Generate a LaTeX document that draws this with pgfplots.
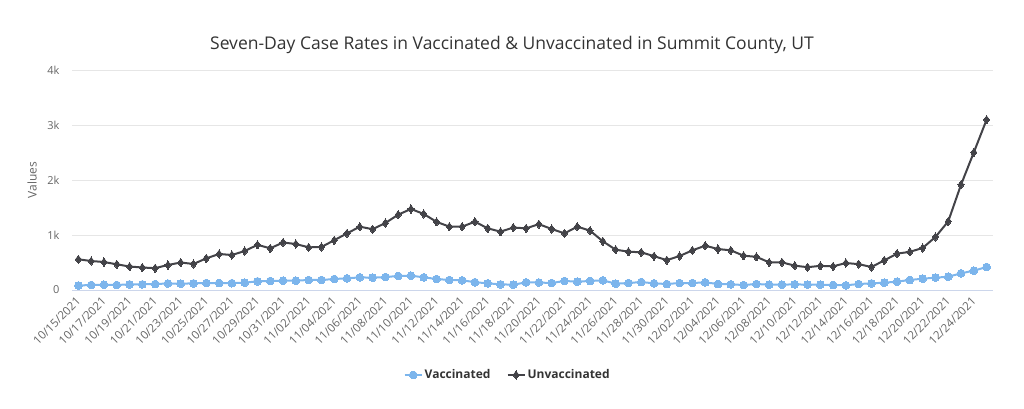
\documentclass[border=0pt]{standalone}
\usepackage{fontspec}
\setmainfont{Open Sans}
\usepackage{pgfplots}
\usepackage{pgfplotstable}
\pgfplotsset{compat=1.18}

\definecolor{vaccol}{HTML}{7CB5EC}
\definecolor{unvcol}{HTML}{434348}
\definecolor{titlecol}{HTML}{333333}
\definecolor{labelcol}{HTML}{666666}
\definecolor{gridcol}{HTML}{E6E6E6}
\definecolor{axiscol}{HTML}{CCD6EB}

% Seven-day case rates per day, 10/15/2021 (idx 0) to 12/25/2021 (idx 71)
\pgfplotstableread{
idx vac unvac
0   82   558
1   91   527
2   97   509
3   91   467
4   103  427
5   103  409
6   109  397
7   118  455
8   115  500
9   121  473
10  127  576
11  127  655
12  125  636
13  133  709
14  158  821
15  164  758
16  170  864
17  170  836
18  182  776
19  182  782
20  200  905
21  212  1030
22  230  1151
23  224  1106
24  236  1218
25  255  1370
26  261  1473
27  230  1382
28  200  1239
29  182  1152
30  176  1152
31  142  1242
32  121  1121
33  103  1061
34  97   1136
35  139  1121
36  136  1197
37  127  1109
38  164  1030
39  152  1152
40  164  1079
41  176  885
42  115  733
43  127  697
44  145  685
45  121  615
46  109  543
47  127  618
48  127  721
49  139  806
50  109  745
51  103  721
52  91   624
53  109  603
54  97   503
55  97   503
56  103  442
57  97   415
58  97   439
59  91   430
60  85   491
61  109  470
62  121  418
63  133  539
64  152  661
65  182  694
66  206  764
67  224  964
68  242  1248
69  303  1915
70  352  2503
71  418  3097
}\ratesdata

\begin{document}
\begin{tikzpicture}
\path[use as bounding box] (0,0) rectangle (1024pt,408pt);
\begin{axis}[
  at={(72pt,118pt)}, anchor=south west,
  width=921pt, height=220pt, scale only axis,
  xmin=-0.5, xmax=71.5, ymin=0, ymax=4000,
  axis line style={draw=none},
  major tick length=0pt,
  ymajorgrids, grid style={gridcol, line width=1pt},
  ytick={0,1000,2000,3000,4000},
  yticklabels={0,1k,2k,3k,4k},
  yticklabel style={font=\fontsize{11}{13}\selectfont, text=labelcol, xshift=-9pt},
  xtick={0,2,...,70},
  xticklabels={10/15/2021,10/17/2021,10/19/2021,10/21/2021,10/23/2021,10/25/2021,10/27/2021,10/29/2021,10/31/2021,11/02/2021,11/04/2021,11/06/2021,11/08/2021,11/10/2021,11/12/2021,11/14/2021,11/16/2021,11/18/2021,11/20/2021,11/22/2021,11/24/2021,11/26/2021,11/28/2021,11/30/2021,12/02/2021,12/04/2021,12/06/2021,12/08/2021,12/10/2021,12/12/2021,12/14/2021,12/16/2021,12/18/2021,12/20/2021,12/22/2021,12/24/2021},
  xticklabel style={font=\fontsize{11.5}{13}\selectfont, text=labelcol, inner sep=0pt, xshift=3pt, yshift=-12pt, rotate=45, anchor=base east},
  ylabel={Values},
  ylabel style={at={(axis description cs:-0.0434,0.5)}, anchor=center, font=\fontsize{12}{14}\selectfont, text=labelcol},
  legend columns=2,
  legend style={at={(0.473,-0.386)}, anchor=center, draw=none, fill=none,
    font=\bfseries\fontsize{12}{14}\selectfont, text=titlecol,
    /tikz/every even column/.append style={column sep=14pt}},
  legend cell align=left,
]
\draw[axiscol, line width=1pt] (rel axis cs:0,0) -- (rel axis cs:1,0);
\addplot[vaccol, line width=2pt, mark=*, mark size=3.9pt, mark options={fill=vaccol, draw=vaccol, line width=0pt}]
  table[x=idx, y=vac] {\ratesdata};
\addlegendentry{Vaccinated}
\addplot[unvcol, line width=2pt, mark=diamond*, mark size=4.1pt, mark options={fill=unvcol, draw=unvcol, line width=0pt}]
  table[x=idx, y=unvac] {\ratesdata};
\addlegendentry{Unvaccinated}
\end{axis}
\node[text=titlecol, font=\fontsize{17.5}{20}\selectfont] at (512pt,363pt) {Seven-Day Case Rates in Vaccinated \& Unvaccinated in Summit County, UT};
\end{tikzpicture}
\end{document}
